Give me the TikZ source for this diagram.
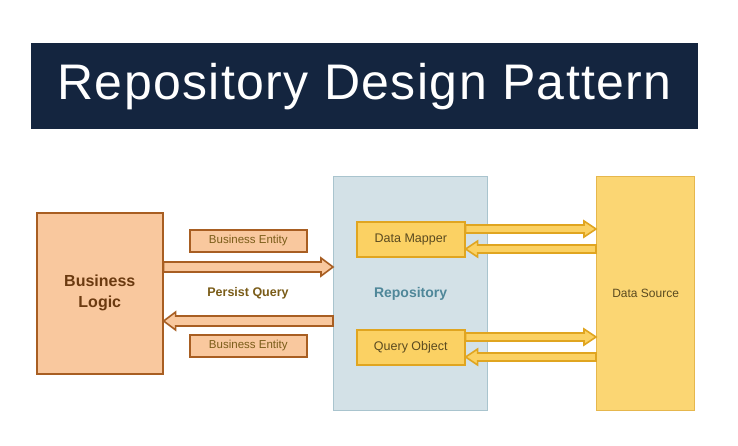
\documentclass[tikz,border=0pt]{standalone}
\usepackage{fontspec}
\setmainfont{Liberation Sans}
\usetikzlibrary{calc}
\definecolor{navy}{HTML}{14253F}
\definecolor{peach}{HTML}{F9C89E}
\definecolor{brownb}{HTML}{A85E22}
\definecolor{browntxt}{HTML}{6B3A10}
\definecolor{olive}{HTML}{7A5C18}
\definecolor{repofill}{HTML}{D3E1E7}
\definecolor{repob}{HTML}{A9C4CE}
\definecolor{teal}{HTML}{4F8799}
\definecolor{yel}{HTML}{FBD163}
\definecolor{yelb}{HTML}{E0A520}
\definecolor{dstext}{HTML}{5A4A20}
\newcommand\fatarr[6]{% start, end, fill, draw, shaft half, head length (signed)
  \filldraw[fill=#3,draw=#4,line width=1.6pt] let \p1=#1, \p2=#2 in
   (\x1,\y1+#5) -- (\x2-#6,\y1+#5) -- (\x2-#6,\y1+#5+4pt) -- (\x2,\y1) --
   (\x2-#6,\y1-#5-4pt) -- (\x2-#6,\y1-#5) -- (\x1,\y1-#5) -- cycle;}
\tikzset{
  peachbox/.style={draw=brownb,fill=peach,line width=1.6pt,inner sep=0pt,anchor=north west},
  yelbox/.style={draw=yelb,fill=yel,line width=1.6pt,inner sep=0pt,anchor=north west},
}
\begin{document}
\begin{tikzpicture}[x=1pt,y=-1pt]
\useasboundingbox (0,0) rectangle (738,446);
\fill[white] (0,0) rectangle (738,446);
\node[fill=navy,minimum width=667pt,minimum height=86pt,anchor=north west,inner sep=0pt,
  text=white,font=\fontsize{50}{52}\selectfont\addfontfeature{LetterSpace=2.8}] (title) at (31,43) {Repository Design Pattern};
\node[peachbox,minimum width=126pt,minimum height=161pt,font=\bfseries\fontsize{16}{21}\selectfont,
  text=browntxt,align=center] (bl) at (36,212) {Business\\Logic};
\node[draw=repob,fill=repofill,line width=1.2pt,minimum width=154pt,minimum height=234pt,
  anchor=north west,inner sep=0pt,text=teal,font=\bfseries\fontsize{14}{16}\selectfont] (repo) at (333,176) {Repository};
\node[draw=yelb!80,fill=yel!90,line width=1.2pt,minimum width=98pt,minimum height=234pt,
  anchor=north west,inner sep=0pt,text=dstext,font=\fontsize{12}{14}\selectfont] (ds) at (596,176) {Data Source};
\node[peachbox,minimum width=117pt,minimum height=22pt,text=olive,font=\fontsize{11.5}{13}\selectfont] (be1) at (189,229) {Business Entity};
\node[peachbox,minimum width=117pt,minimum height=22pt,text=olive,font=\fontsize{11.5}{13}\selectfont] (be2) at (189,334) {Business Entity};
\node[text=olive,font=\bfseries\fontsize{12.5}{14}\selectfont] (pq) at (248,293) {Persist Query};
\node[yelbox,minimum width=108pt,minimum height=35pt,text=dstext,font=\fontsize{12.5}{14}\selectfont] (dm) at (356,221) {Data Mapper};
\node[yelbox,minimum width=108pt,minimum height=35pt,text=dstext,font=\fontsize{12.5}{14}\selectfont] (qo) at (356,329) {Query Object};
% business arrows
\fatarr{(bl.east |- 0,267)}{(repo.west |- 0,267)}{peach}{brownb}{5pt}{12pt}
\fatarr{(repo.west |- 0,321)}{(bl.east |- 0,321)}{peach}{brownb}{5pt}{-12pt}
% data arrows
\fatarr{(dm.east |- 0,229)}{(ds.west |- 0,229)}{yel}{yelb}{4pt}{12pt}
\fatarr{(ds.west |- 0,249)}{(dm.east |- 0,249)}{yel}{yelb}{4pt}{-12pt}
\fatarr{(qo.east |- 0,337)}{(ds.west |- 0,337)}{yel}{yelb}{4pt}{12pt}
\fatarr{(ds.west |- 0,357)}{(qo.east |- 0,357)}{yel}{yelb}{4pt}{-12pt}
\end{tikzpicture}
\end{document}
